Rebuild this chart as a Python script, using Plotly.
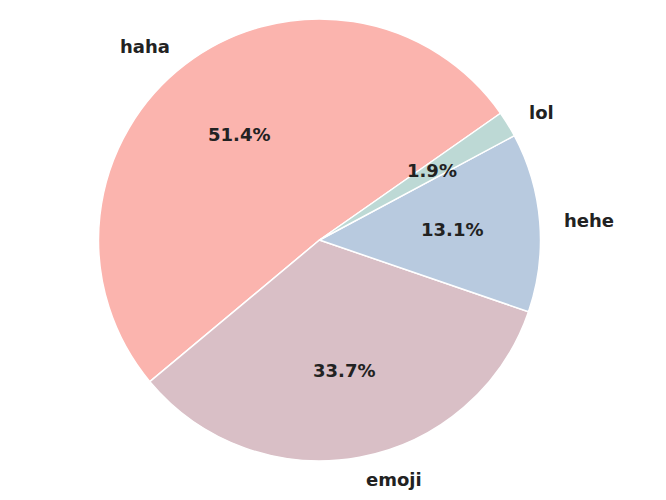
import math
import plotly.graph_objects as go

labels = ["haha", "emoji", "hehe", "lol"]
values = [51.4, 33.7, 13.1, 1.9]
colors = ["#FBB4AE", "#D9BFC6", "#B8CADF", "#BDD9D5"]
start_angle = 35  # degrees, counterclockwise from 3 o'clock

W, H = 666, 500
OFF = 8  # page body margin
cx, cy, r = 319.5 - OFF, 240.0 - OFF, 221.0

total = sum(values)
first_span = 360 * values[0] / total

fig = go.Figure(go.Pie(
    labels=labels, values=values, sort=False,
    direction="counterclockwise", rotation=90 - start_angle - first_span,
    marker=dict(colors=colors, line=dict(color="white", width=1.5)),
    textinfo="none", hoverinfo="label+percent", showlegend=False,
    domain=dict(x=[(cx - r) / W, (cx + r) / W], y=[1 - (cy + r) / H, 1 - (cy - r) / H]),
))

ann = []
a0 = start_angle
font = dict(family="DejaVu Sans", size=18, color="#222222", weight="bold")
for lab, v in zip(labels, values):
    span = 360 * v / total
    mid = math.radians(a0 + span / 2)
    a0 += span
    c, s = math.cos(mid), math.sin(mid)
    lx = cx + 1.1 * r * c
    ly = cy - 1.1 * r * s
    ann.append(dict(x=lx / W, y=1 - ly / H, xref="paper", yref="paper",
                    text="<b>%s</b>" % lab, showarrow=False,
                    xanchor="left" if c > 0 else "right", yanchor="middle", font=font))
    px = cx + 0.6 * r * c
    py = cy - 0.6 * r * s
    ann.append(dict(x=px / W, y=1 - py / H, xref="paper", yref="paper",
                    text="<b>%.1f%%</b>" % v, showarrow=False,
                    xanchor="center", yanchor="middle", font=font))

fig.update_layout(width=W, height=H, margin=dict(l=0, r=0, t=0, b=0),
                  paper_bgcolor="white", plot_bgcolor="white", annotations=ann)
fig.write_html("out.html")
